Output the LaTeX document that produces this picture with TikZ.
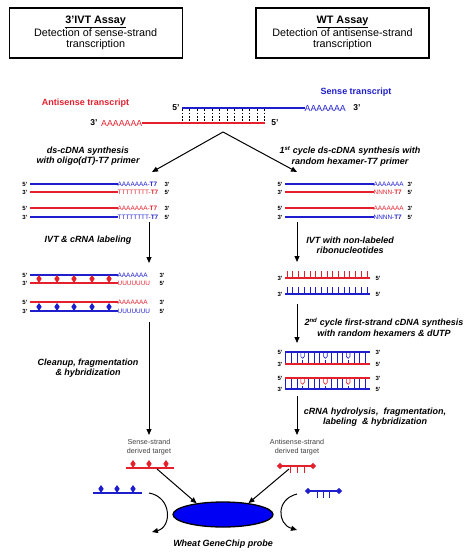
\documentclass[tikz,border=0pt]{standalone}
\usepackage{fontspec}
\setmainfont{Liberation Sans}
\usetikzlibrary{arrows.meta,shapes.geometric}
\definecolor{sblue}{RGB}{30,30,205}
\definecolor{sred}{RGB}{228,32,45}
\definecolor{chipblue}{RGB}{0,0,245}
\tikzset{
 every node/.style={inner sep=0pt},
 box/.style={draw,line width=1.3pt,minimum width=173pt,minimum height=50pt,align=center,font=\fontsize{10.8}{11.6}\selectfont},
 proc/.style={align=center,font=\fontsize{9}{10.2}\selectfont\bfseries\itshape},
 endl/.style={font=\fontsize{6}{7}\selectfont\bfseries},
 bigend/.style={font=\fontsize{8.5}{9}\selectfont\bfseries},
 tail/.style={anchor=west,font=\fontsize{6.4}{7}\selectfont},
 bigtail/.style={font=\fontsize{8.8}{9}\selectfont},
 strand/.style={line width=1.5pt},
 tickl/.style={line width=0.6pt},
 arr/.style={-{Triangle[length=6pt,width=5pt]},line width=1pt},
 tgt/.style={align=center,font=\fontsize{7.2}{9}\selectfont,text=black!75},
 trlab/.style={font=\fontsize{9}{10}\selectfont\bfseries},
 updia/.pic={\fill (0,0)--(-0.6,-1)--(-2.7,-4.2)--(0,-8)--(2.7,-4.2)--(0.6,-1)--cycle;},
 middia/.pic={\fill (0,3.2)--(-3.2,0)--(0,-3.2)--(3.2,0)--cycle;},
 upick/.pic={\draw[tickl] (-1.8,1)--(-1.8,4.5) arc[start angle=180,end angle=0,radius=1.8]--(1.8,1);},
}
% left row: name, y, colour, tail text, left label, right label, right label x
\newcommand\lrow[7]{%
 \node[endl] (#1l) at (25,#2) {#5};
 \draw[strand,#3] (30,#2) coordinate (#1a) -- (118,#2) coordinate (#1b);
 \node[tail,text=#3] (#1t) at (117.5,#2) {#4};
 \node[endl] (#1r) at (#7,#2) {#6};
}
% right row: name, y, colour, tail text, left label, right label
\newcommand\rrow[6]{%
 \node[endl] (#1l) at (280,#2) {#5};
 \draw[strand,#3] (285,#2) coordinate (#1a) -- (374,#2) coordinate (#1b);
 \node[tail,text=#3] (#1t) at (373.5,#2) {#4};
 \node[endl] (#1r) at (410,#2) {#6};
}
% plain strand for the right branch: name, y, colour, left label, right label
\newcommand\prow[5]{%
 \node[endl] (#1l) at (280,#2) {#4};
 \draw[strand,#3] (285,#2) coordinate (#1a) -- (370,#2) coordinate (#1b);
 \node[endl] (#1r) at (378,#2) {#5};
}
\begin{document}
\begin{tikzpicture}[x=1pt,y=-1pt]
\useasboundingbox (0,0) rectangle (474,556);
% header boxes
\node[box] (lbox) at (95.7,33) {\underline{\textbf{3'IVT Assay}}\\Detection of sense-strand\\transcription};
\node[box] (rbox) at (342.5,33) {\underline{\textbf{WT Assay}}\\Detection of antisense-strand\\transcription};
% transcripts
\node[trlab,text=sblue] (senselab) at (356,92) {Sense transcript};
\node[trlab,text=sred] (antilab) at (85.5,103) {Antisense transcript};
\node[bigend] (s5) at (176,108) {5'};
\draw[strand,sblue] (182,108) coordinate (sA) -- (305,108) coordinate (sB);
\node[bigtail,anchor=west,text=sblue] (spoly) at (304.5,108) {AAAAAAA};
\node[bigend] (s3) at (357,108) {3'};
\node[bigend] (a3) at (94,123) {3'};
\node[bigtail,anchor=east,text=sred] (apoly) at (142.5,123) {AAAAAAA};
\draw[strand,sred] (142,123) coordinate (aA) -- (265,123) coordinate (aB);
\node[bigend] (a5) at (275,123) {5'};
\foreach \i in {0,...,11}
  \draw[line width=0.7pt,dash pattern=on 1.8pt off 1.4pt] (182+7.5*\i,109.5) -- (182+7.5*\i,122);
% split
\coordinate (apex) at (223,132);
\coordinate (lsplit) at (152,172);
\coordinate (rsplit) at (297,172);
\draw[arr] (apex) -- (lsplit);
\draw[arr] (apex) -- (rsplit);
\node[proc] (p1) at (88,156) {ds-cDNA synthesis\\with oligo(dT)-T7 primer};
\node[proc] (p2) at (350,156) {1\textsuperscript{st} cycle ds-cDNA synthesis with\\random hexamer-T7 primer};
% left ds-cDNA
\lrow{la}{184}{sblue}{AAAAAAA-\textbf{T7}}{5'}{3'}{167}
\lrow{lb}{192}{sred}{TTTTTTTT-\textbf{T7}}{3'}{5'}{167}
\lrow{lc}{208}{sred}{AAAAAAA-\textbf{T7}}{5'}{3'}{167}
\lrow{ld}{217}{sblue}{TTTTTTTT-\textbf{T7}}{3'}{5'}{167}
\coordinate (l1s) at (149,222);
\coordinate (l1e) at (149,263);
\draw[arr] (l1s) -- (l1e);
\node[proc] (p3) at (88,240) {IVT \& cRNA labeling};
% left labelled cRNA
\lrow{le}{275}{sblue}{AAAAAAA}{5'}{3'}{162}
\lrow{lf}{283}{sred}{UUUUUUU}{3'}{5'}{162}
\lrow{lg}{302}{sred}{AAAAAAA}{5'}{3'}{162}
\lrow{lh}{311}{sblue}{UUUUUUU}{3'}{5'}{162}
\foreach \x in {39,57,74,92,109} {
  \pic[sred] at (\x,283) {updia};
  \pic[sblue] at (\x,311) {updia};
}
\coordinate (l2s) at (149,322);
\coordinate (l2e) at (149,435);
\draw[arr] (l2s) -- (l2e);
\node[proc] (p4) at (88,368) {Cleanup, fragmentation\\\& hybridization};
% right ds-cDNA
\rrow{ra}{184}{sblue}{AAAAAAA}{5'}{3'}
\rrow{rb}{192}{sred}{NNNN-\textbf{T7}}{3'}{5'}
\rrow{rc}{208}{sred}{AAAAAAA}{5'}{3'}
\rrow{rd}{217}{sblue}{NNNN-\textbf{T7}}{3'}{5'}
\coordinate (r1s) at (297,222);
\coordinate (r1e) at (297,262);
\draw[arr] (r1s) -- (r1e);
\node[proc] (p5) at (350,245) {IVT with non-labeled\\ribonucleotides};
% right cRNA single strands
\prow{re}{278}{sred}{3'}{5'}
\prow{rf}{294}{sblue}{3'}{5'}
\foreach \i in {0,...,14} {
  \draw[tickl,sred] (287+5.7*\i,278) -- (287+5.7*\i,270.5);
  \draw[tickl,sblue] (287+5.7*\i,294) -- (287+5.7*\i,286.5);
}
\coordinate (r2s) at (297,304);
\coordinate (r2e) at (297,343);
\draw[arr] (r2s) -- (r2e);
\node[proc] (p6) at (384,327) {2\textsuperscript{nd} cycle first-strand cDNA synthesis\\with random hexamers \& dUTP};
% right double strands with dUTP
\prow{rg}{352}{sblue}{5'}{3'}
\prow{rh}{364}{sred}{3'}{5'}
\prow{ri}{378}{sred}{5'}{3'}
\prow{rj}{389}{sblue}{3'}{5'}
\foreach \i in {0,1,2,4,5,6,8,9,10,12,13,14} {
  \draw[tickl,sblue] (285.5+5.7*\i,353) -- (285.5+5.7*\i,363);
  \draw[tickl,sblue] (285.5+5.7*\i,379) -- (285.5+5.7*\i,388);
}
\foreach \i in {3,7,11} {
  \pic[sblue] at (285.5+5.7*\i,352) {upick};
  \pic[sred] at (285.5+5.7*\i,378) {upick};
  \draw[tickl,sblue] (285.5+5.7*\i,360) -- (285.5+5.7*\i,363);
  \draw[tickl,sblue] (285.5+5.7*\i,386) -- (285.5+5.7*\i,388);
}
\coordinate (r3s) at (297,396);
\coordinate (r3e) at (297,435);
\draw[arr] (r3s) -- (r3e);
\node[proc] (p7) at (375,417.5) {cRNA hydrolysis,~ fragmentation,\\labeling~ \& hybridization};
% targets
\node[tgt] (ltgt) at (149,447.5) {Sense-strand\\derived target};
\node[tgt] (rtgt) at (297,447.5) {Antisense-strand\\derived target};
% chip
\node[ellipse,draw,fill=chipblue,line width=1.3pt,minimum width=100pt,minimum height=25pt] (chip) at (223,514.5) {};
\node[proc] (chiplab) at (223,544) {Wheat GeneChip probe};
% left fragments
\draw[strand,sred] (126,468) coordinate (lfa) -- (174,468) coordinate (lfb);
\foreach \x in {133,149,166} \pic[sred] at (\x,468) {updia};
\draw[strand,sblue] (93,493) coordinate (lga) -- (142,493) coordinate (lgb);
\foreach \x in {101,117,133} \pic[sblue] at (\x,493) {updia};
\coordinate (lfm) at (157,469);
\draw[arr] (lfm) -- (chip.157);
\coordinate (lc1) at (149,493);
\coordinate (lc2) at (152,532);
\draw[arr] (lc1) .. controls (172,497) and (172,527) .. (lc2);
% right fragments
\draw[strand,sred] (280,466) coordinate (rfa) -- (313,466) coordinate (rfb);
\pic[sred] at (rfa) {middia};
\pic[sred] at (rfb) {middia};
\foreach \x in {290,297,304} \draw[tickl,sred] (\x,467) -- (\x,473);
\draw[strand,sblue] (308,491) coordinate (rga) -- (339,491) coordinate (rgb);
\pic[sblue] at (rga) {middia};
\pic[sblue] at (rgb) {middia};
\foreach \x in {317,323,329} \draw[tickl,sblue] (\x,492) -- (\x,498);
\coordinate (rfm) at (289,469);
\draw[arr] (rfm) -- (chip.24);
\coordinate (rc1) at (297,494);
\coordinate (rc2) at (297,530);
\draw[arr] (rc1) .. controls (276,499) and (277,524) .. (rc2);
\end{tikzpicture}
\end{document}
